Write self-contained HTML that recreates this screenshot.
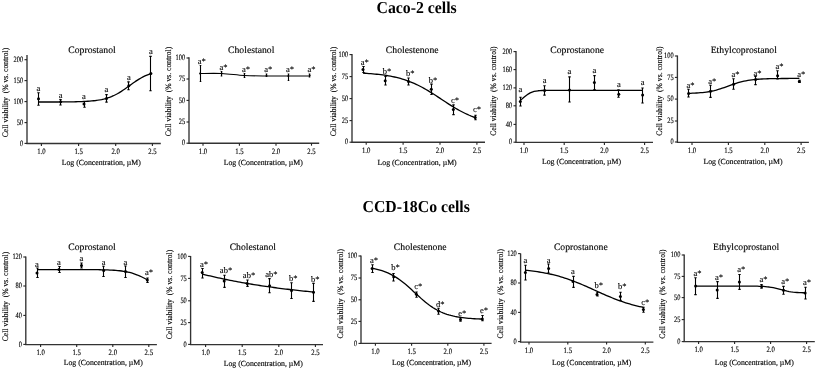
<!DOCTYPE html>
<html><head><meta charset="utf-8"><style>
html,body{margin:0;padding:0;background:#fff;}
svg{display:block;font-family:"Liberation Serif", serif;filter:blur(0.3px);} text{text-rendering:geometricPrecision;stroke:#000;stroke-width:0.14px;} .h{stroke:none;}
</style></head><body>
<svg width="817" height="370" viewBox="0 0 817 370">
<rect width="817" height="370" fill="#fff"/>
<g fill="#000">
<text transform="translate(416.6,13.3) scale(0.945,1)" text-anchor="middle" font-size="16.7" font-weight="bold" class="h">Caco-2 cells</text>
<text transform="translate(416.2,211.5) scale(0.945,1)" text-anchor="middle" font-size="16.7" font-weight="bold" class="h">CCD-18Co cells</text>
<g><path d="M27,55 V143.5 H160.8" fill="none" stroke="#333" stroke-width="1.35"/><path d="M24.5,143.4 H27" stroke="#222" stroke-width="1.1"/><text transform="translate(23.2,145.6) scale(0.78,1)" text-anchor="end" font-size="8.2">0</text><path d="M24.5,122.6 H27" stroke="#222" stroke-width="1.1"/><text transform="translate(23.2,124.8) scale(0.78,1)" text-anchor="end" font-size="8.2">50</text><path d="M24.5,101.6 H27" stroke="#222" stroke-width="1.1"/><text transform="translate(23.2,103.8) scale(0.78,1)" text-anchor="end" font-size="8.2">100</text><path d="M24.5,80.6 H27" stroke="#222" stroke-width="1.1"/><text transform="translate(23.2,82.8) scale(0.78,1)" text-anchor="end" font-size="8.2">150</text><path d="M24.5,59.7 H27" stroke="#222" stroke-width="1.1"/><text transform="translate(23.2,61.900000000000006) scale(0.78,1)" text-anchor="end" font-size="8.2">200</text><path d="M41.4,143.5 V146.0" stroke="#222" stroke-width="1.1"/><text transform="translate(41.4,154.0) scale(0.82,1)" text-anchor="middle" font-size="8.2">1.0</text><path d="M78.6,143.5 V146.0" stroke="#222" stroke-width="1.1"/><text transform="translate(78.6,154.0) scale(0.82,1)" text-anchor="middle" font-size="8.2">1.5</text><path d="M115.7,143.5 V146.0" stroke="#222" stroke-width="1.1"/><text transform="translate(115.7,154.0) scale(0.82,1)" text-anchor="middle" font-size="8.2">2.0</text><path d="M152.4,143.5 V146.0" stroke="#222" stroke-width="1.1"/><text transform="translate(152.4,154.0) scale(0.82,1)" text-anchor="middle" font-size="8.2">2.5</text><text x="92" y="53" text-anchor="middle" font-size="9.7">Coprostanol</text><text x="101.3" y="165.20000000000002" text-anchor="middle" font-size="7.8">Log (Concentration, µM)</text><text transform="translate(8.15,92.5) rotate(-90) scale(0.92,1)" text-anchor="middle" font-size="8.3">Cell viability  (% vs. control)</text><path d="M38.50,102.02 L40.47,102.02 L42.44,102.02 L44.42,102.02 L46.39,102.01 L48.36,102.01 L50.33,102.01 L52.30,102.00 L54.28,101.99 L56.25,101.99 L58.22,101.98 L60.19,101.97 L62.16,101.95 L64.14,101.94 L66.11,101.92 L68.08,101.90 L70.05,101.87 L72.02,101.84 L73.99,101.81 L75.97,101.76 L77.94,101.71 L79.91,101.65 L81.88,101.57 L83.85,101.49 L85.83,101.38 L87.80,101.26 L89.77,101.12 L91.74,100.95 L93.71,100.74 L95.69,100.51 L97.66,100.23 L99.63,99.90 L101.60,99.52 L103.57,99.09 L105.55,98.58 L107.52,97.99 L109.49,97.33 L111.46,96.57 L113.43,95.72 L115.41,94.78 L117.38,93.74 L119.35,92.60 L121.32,91.38 L123.29,90.08 L125.26,88.72 L127.24,87.31 L129.21,85.88 L131.18,84.45 L133.15,83.04 L135.12,81.66 L137.10,80.35 L139.07,79.11 L141.04,77.96 L143.01,76.90 L144.98,75.94 L146.96,75.07 L148.93,74.30 L150.90,73.62" fill="none" stroke="#000" stroke-width="1.3" stroke-linejoin="round"/><path d="M38.5,92.7 V105.2 M37.3,92.7 H39.7 M37.3,105.2 H39.7" stroke="#000" stroke-width="1.1"/><circle cx="38.5" cy="98.8" r="1.5" fill="#000"/><text x="38.5" y="91.2" text-anchor="middle" font-size="8.5">a</text><path d="M60.5,99.5 V105 M59.3,99.5 H61.7 M59.3,105 H61.7" stroke="#000" stroke-width="1.1"/><circle cx="60.7" cy="101.8" r="1.5" fill="#000"/><text x="60.7" y="98.2" text-anchor="middle" font-size="8.5">a</text><path d="M84.5,101.5 V107.2 M83.3,101.5 H85.7 M83.3,107.2 H85.7" stroke="#000" stroke-width="1.1"/><circle cx="84" cy="104" r="1.5" fill="#000"/><text x="84" y="99.2" text-anchor="middle" font-size="8.5">a</text><path d="M106.5,94.6 V102.1 M105.3,94.6 H107.7 M105.3,102.1 H107.7" stroke="#000" stroke-width="1.1"/><circle cx="106.5" cy="98.5" r="1.5" fill="#000"/><text x="106.5" y="92.0" text-anchor="middle" font-size="8.5">a</text><path d="M128.5,81.9 V89.8 M127.3,81.9 H129.7 M127.3,89.8 H129.7" stroke="#000" stroke-width="1.1"/><circle cx="128.8" cy="85.7" r="1.5" fill="#000"/><text x="128.8" y="79.7" text-anchor="middle" font-size="8.5">a</text><path d="M150.5,56.4 V90.8 M149.3,56.4 H151.7 M149.3,90.8 H151.7" stroke="#000" stroke-width="1.1"/><circle cx="150.9" cy="73.4" r="1.5" fill="#000"/><text x="150.9" y="54.2" text-anchor="middle" font-size="8.5">a</text></g><g><path d="M189,57.2 V143.2 H319.2" fill="none" stroke="#333" stroke-width="1.35"/><path d="M186.5,143.2 H189" stroke="#222" stroke-width="1.1"/><text transform="translate(185.2,145.39999999999998) scale(0.78,1)" text-anchor="end" font-size="8.2">0</text><path d="M186.5,122 H189" stroke="#222" stroke-width="1.1"/><text transform="translate(185.2,124.2) scale(0.78,1)" text-anchor="end" font-size="8.2">25</text><path d="M186.5,100.4 H189" stroke="#222" stroke-width="1.1"/><text transform="translate(185.2,102.60000000000001) scale(0.78,1)" text-anchor="end" font-size="8.2">50</text><path d="M186.5,79 H189" stroke="#222" stroke-width="1.1"/><text transform="translate(185.2,81.2) scale(0.78,1)" text-anchor="end" font-size="8.2">75</text><path d="M186.5,58 H189" stroke="#222" stroke-width="1.1"/><text transform="translate(185.2,60.2) scale(0.78,1)" text-anchor="end" font-size="8.2">100</text><path d="M203,143.2 V145.7" stroke="#222" stroke-width="1.1"/><text transform="translate(203,153.6) scale(0.82,1)" text-anchor="middle" font-size="8.2">1.0</text><path d="M239.4,143.2 V145.7" stroke="#222" stroke-width="1.1"/><text transform="translate(239.4,153.6) scale(0.82,1)" text-anchor="middle" font-size="8.2">1.5</text><path d="M276,143.2 V145.7" stroke="#222" stroke-width="1.1"/><text transform="translate(276,153.6) scale(0.82,1)" text-anchor="middle" font-size="8.2">2.0</text><path d="M311.5,143.2 V145.7" stroke="#222" stroke-width="1.1"/><text transform="translate(311.5,153.6) scale(0.82,1)" text-anchor="middle" font-size="8.2">2.5</text><text x="251.2" y="53" text-anchor="middle" font-size="9.7">Cholestanol</text><text x="263.3" y="165.20000000000002" text-anchor="middle" font-size="7.8">Log (Concentration, µM)</text><text transform="translate(171.2,91.5) rotate(-90) scale(0.92,1)" text-anchor="middle" font-size="8.3">Cell viability  (% vs. control)</text><path d="M200.00,73.50 C203.63,73.50 214.42,73.17 221.80,73.50 C229.18,73.83 236.85,75.08 244.30,75.50 C251.75,75.92 259.17,75.92 266.50,76.00 C273.83,76.08 281.08,76.00 288.30,76.00 C295.52,76.00 306.22,76.00 309.80,76.00" fill="none" stroke="#000" stroke-width="1.1" stroke-linejoin="round"/><path d="M200.5,65.5 V81.5 M199.7,65.5 H201.3 M199.7,81.5 H201.3" stroke="#000" stroke-width="1.1"/><circle cx="200" cy="73.5" r="0.9" fill="#000"/><text x="201.8" y="64.2" text-anchor="middle" font-size="8.5">a*</text><path d="M221.5,71.5 V76 M220.7,71.5 H222.3 M220.7,76 H222.3" stroke="#000" stroke-width="1.1"/><circle cx="221.8" cy="73.5" r="0.9" fill="#000"/><text x="223.60000000000002" y="70.2" text-anchor="middle" font-size="8.5">a*</text><path d="M244.5,73.5 V77.5 M243.7,73.5 H245.3 M243.7,77.5 H245.3" stroke="#000" stroke-width="1.1"/><circle cx="244.3" cy="75.5" r="0.9" fill="#000"/><text x="246.10000000000002" y="72.2" text-anchor="middle" font-size="8.5">a*</text><path d="M266.5,74 V76 M265.7,74 H267.3 M265.7,76 H267.3" stroke="#000" stroke-width="1.1"/><circle cx="266.5" cy="76" r="0.9" fill="#000"/><text x="268.3" y="72.2" text-anchor="middle" font-size="8.5">a*</text><path d="M288.5,74 V80.5 M287.7,74 H289.3 M287.7,80.5 H289.3" stroke="#000" stroke-width="1.1"/><circle cx="288.3" cy="76" r="0.9" fill="#000"/><text x="290.1" y="72.2" text-anchor="middle" font-size="8.5">a*</text><path d="M309.5,74 V77 M308.7,74 H310.3 M308.7,77 H310.3" stroke="#000" stroke-width="1.1"/><circle cx="309.8" cy="75.5" r="0.9" fill="#000"/><text x="311.6" y="72.2" text-anchor="middle" font-size="8.5">a*</text></g><g><path d="M352,54 V142.2 H485" fill="none" stroke="#333" stroke-width="1.35"/><path d="M349.5,142.2 H352" stroke="#222" stroke-width="1.1"/><text transform="translate(348.2,144.39999999999998) scale(0.78,1)" text-anchor="end" font-size="8.2">0</text><path d="M349.5,120.6 H352" stroke="#222" stroke-width="1.1"/><text transform="translate(348.2,122.8) scale(0.78,1)" text-anchor="end" font-size="8.2">25</text><path d="M349.5,98.6 H352" stroke="#222" stroke-width="1.1"/><text transform="translate(348.2,100.8) scale(0.78,1)" text-anchor="end" font-size="8.2">50</text><path d="M349.5,76.6 H352" stroke="#222" stroke-width="1.1"/><text transform="translate(348.2,78.8) scale(0.78,1)" text-anchor="end" font-size="8.2">75</text><path d="M349.5,54.6 H352" stroke="#222" stroke-width="1.1"/><text transform="translate(348.2,56.800000000000004) scale(0.78,1)" text-anchor="end" font-size="8.2">100</text><path d="M366.2,142.2 V144.7" stroke="#222" stroke-width="1.1"/><text transform="translate(366.2,152.79999999999998) scale(0.82,1)" text-anchor="middle" font-size="8.2">1.0</text><path d="M403.1,142.2 V144.7" stroke="#222" stroke-width="1.1"/><text transform="translate(403.1,152.79999999999998) scale(0.82,1)" text-anchor="middle" font-size="8.2">1.5</text><path d="M440,142.2 V144.7" stroke="#222" stroke-width="1.1"/><text transform="translate(440,152.79999999999998) scale(0.82,1)" text-anchor="middle" font-size="8.2">2.0</text><path d="M476.9,142.2 V144.7" stroke="#222" stroke-width="1.1"/><text transform="translate(476.9,152.79999999999998) scale(0.82,1)" text-anchor="middle" font-size="8.2">2.5</text><text x="412.2" y="53" text-anchor="middle" font-size="9.7">Cholestenone</text><text x="417.1" y="165.20000000000002" text-anchor="middle" font-size="7.8">Log (Concentration, µM)</text><text transform="translate(336.20000000000005,91.5) rotate(-90) scale(0.92,1)" text-anchor="middle" font-size="8.3">Cell viability  (% vs. control)</text><path d="M363.00,73.16 L364.97,73.27 L366.94,73.40 L368.91,73.53 L370.87,73.68 L372.84,73.85 L374.81,74.03 L376.78,74.23 L378.75,74.44 L380.72,74.68 L382.68,74.93 L384.65,75.21 L386.62,75.51 L388.59,75.84 L390.56,76.20 L392.53,76.59 L394.49,77.01 L396.46,77.47 L398.43,77.96 L400.40,78.49 L402.37,79.06 L404.34,79.67 L406.31,80.33 L408.27,81.03 L410.24,81.78 L412.21,82.58 L414.18,83.42 L416.15,84.31 L418.12,85.25 L420.08,86.24 L422.05,87.27 L424.02,88.35 L425.99,89.47 L427.96,90.63 L429.93,91.82 L431.89,93.05 L433.86,94.30 L435.83,95.57 L437.80,96.86 L439.77,98.16 L441.74,99.46 L443.71,100.77 L445.67,102.06 L447.64,103.34 L449.61,104.60 L451.58,105.84 L453.55,107.05 L455.52,108.22 L457.48,109.36 L459.45,110.46 L461.42,111.51 L463.39,112.52 L465.36,113.48 L467.33,114.39 L469.29,115.26 L471.26,116.08 L473.23,116.84 L475.20,117.57" fill="none" stroke="#000" stroke-width="1.3" stroke-linejoin="round"/><path d="M363.5,66.5 V72.5 M362.3,66.5 H364.7 M362.3,72.5 H364.7" stroke="#000" stroke-width="1.1"/><circle cx="363" cy="69.5" r="1.5" fill="#000"/><text x="364.8" y="64.7" text-anchor="middle" font-size="8.5">a*</text><path d="M385.5,76.5 V85 M384.3,76.5 H386.7 M384.3,85 H386.7" stroke="#000" stroke-width="1.1"/><circle cx="385.2" cy="80.8" r="1.5" fill="#000"/><text x="387.0" y="73.7" text-anchor="middle" font-size="8.5">b*</text><path d="M408.5,78 V85 M407.3,78 H409.7 M407.3,85 H409.7" stroke="#000" stroke-width="1.1"/><circle cx="408.5" cy="81.5" r="1.5" fill="#000"/><text x="410.3" y="75.7" text-anchor="middle" font-size="8.5">b*</text><path d="M431.5,84.1 V94.5 M430.3,84.1 H432.7 M430.3,94.5 H432.7" stroke="#000" stroke-width="1.1"/><circle cx="431.3" cy="89.3" r="1.5" fill="#000"/><text x="433.1" y="82.60000000000001" text-anchor="middle" font-size="8.5">b*</text><path d="M453.5,104.9 V114.6 M452.3,104.9 H454.7 M452.3,114.6 H454.7" stroke="#000" stroke-width="1.1"/><circle cx="453.3" cy="109.4" r="1.5" fill="#000"/><text x="455.1" y="102.7" text-anchor="middle" font-size="8.5">c*</text><path d="M475.5,115.3 V119.8 M474.3,115.3 H476.7 M474.3,119.8 H476.7" stroke="#000" stroke-width="1.1"/><circle cx="475.2" cy="117.5" r="1.5" fill="#000"/><text x="477.0" y="112.2" text-anchor="middle" font-size="8.5">c*</text></g><g><path d="M516,51 V142.4 H653" fill="none" stroke="#333" stroke-width="1.35"/><path d="M513.5,142.2 H516" stroke="#222" stroke-width="1.1"/><text transform="translate(512.2,144.39999999999998) scale(0.78,1)" text-anchor="end" font-size="8.2">0</text><path d="M513.5,124.4 H516" stroke="#222" stroke-width="1.1"/><text transform="translate(512.2,126.60000000000001) scale(0.78,1)" text-anchor="end" font-size="8.2">40</text><path d="M513.5,105.8 H516" stroke="#222" stroke-width="1.1"/><text transform="translate(512.2,108.0) scale(0.78,1)" text-anchor="end" font-size="8.2">80</text><path d="M513.5,87.9 H516" stroke="#222" stroke-width="1.1"/><text transform="translate(512.2,90.10000000000001) scale(0.78,1)" text-anchor="end" font-size="8.2">120</text><path d="M513.5,69.6 H516" stroke="#222" stroke-width="1.1"/><text transform="translate(512.2,71.8) scale(0.78,1)" text-anchor="end" font-size="8.2">160</text><path d="M513.5,51.6 H516" stroke="#222" stroke-width="1.1"/><text transform="translate(512.2,53.800000000000004) scale(0.78,1)" text-anchor="end" font-size="8.2">200</text><path d="M524,142.4 V144.9" stroke="#222" stroke-width="1.1"/><text transform="translate(524,152.9) scale(0.82,1)" text-anchor="middle" font-size="8.2">1.0</text><path d="M564.2,142.4 V144.9" stroke="#222" stroke-width="1.1"/><text transform="translate(564.2,152.9) scale(0.82,1)" text-anchor="middle" font-size="8.2">1.5</text><path d="M604.4,142.4 V144.9" stroke="#222" stroke-width="1.1"/><text transform="translate(604.4,152.9) scale(0.82,1)" text-anchor="middle" font-size="8.2">2.0</text><path d="M644.6,142.4 V144.9" stroke="#222" stroke-width="1.1"/><text transform="translate(644.6,152.9) scale(0.82,1)" text-anchor="middle" font-size="8.2">2.5</text><text x="577.2" y="53" text-anchor="middle" font-size="9.7">Coprostanone</text><text x="581.5" y="164.4" text-anchor="middle" font-size="7.8">Log (Concentration, µM)</text><text transform="translate(495.70000000000005,91.1) rotate(-90) scale(0.92,1)" text-anchor="middle" font-size="8.3">Cell viability  (% vs. control)</text><path d="M520.30,100.20 L522.27,98.73 L524.25,97.11 L526.22,95.50 L528.19,94.07 L530.16,92.92 L532.14,92.05 L534.11,91.45 L536.08,91.04 L538.05,90.77 L540.03,90.60 L542.00,90.49 L543.97,90.42 L545.94,90.37 L547.92,90.35 L549.89,90.33 L551.86,90.32 L553.83,90.31 L555.81,90.31 L557.78,90.30 L559.75,90.30 L561.72,90.30 L563.70,90.30 L565.67,90.30 L567.64,90.30 L569.61,90.30 L571.59,90.30 L573.56,90.30 L575.53,90.30 L577.50,90.30 L579.48,90.30 L581.45,90.30 L583.42,90.30 L585.40,90.30 L587.37,90.30 L589.34,90.30 L591.31,90.30 L593.29,90.30 L595.26,90.30 L597.23,90.30 L599.20,90.30 L601.18,90.30 L603.15,90.30 L605.12,90.30 L607.09,90.30 L609.07,90.30 L611.04,90.30 L613.01,90.30 L614.98,90.30 L616.96,90.30 L618.93,90.30 L620.90,90.30 L622.87,90.30 L624.85,90.30 L626.82,90.30 L628.79,90.30 L630.76,90.30 L632.74,90.30 L634.71,90.30 L636.68,90.30 L638.65,90.30 L640.63,90.30 L642.60,90.30" fill="none" stroke="#000" stroke-width="1.3" stroke-linejoin="round"/><path d="M520.5,97.2 V106 M519.3,97.2 H521.7 M519.3,106 H521.7" stroke="#000" stroke-width="1.1"/><circle cx="520.3" cy="101.5" r="1.5" fill="#000"/><text x="520.3" y="92.10000000000001" text-anchor="middle" font-size="8.5">a</text><path d="M544.5,85.7 V95.1 M543.3,85.7 H545.7 M543.3,95.1 H545.7" stroke="#000" stroke-width="1.1"/><circle cx="544.6" cy="90.5" r="1.5" fill="#000"/><text x="544.6" y="83.0" text-anchor="middle" font-size="8.5">a</text><path d="M569.5,76.9 V102 M568.3,76.9 H570.7 M568.3,102 H570.7" stroke="#000" stroke-width="1.1"/><circle cx="569.5" cy="89.9" r="1.5" fill="#000"/><text x="569.5" y="74.2" text-anchor="middle" font-size="8.5">a</text><path d="M594.5,75.6 V89.6 M593.3,75.6 H595.7 M593.3,89.6 H595.7" stroke="#000" stroke-width="1.1"/><circle cx="594.4" cy="82.4" r="1.5" fill="#000"/><text x="594.4" y="73.2" text-anchor="middle" font-size="8.5">a</text><path d="M618.5,89.9 V97.2 M617.3,89.9 H619.7 M617.3,97.2 H619.7" stroke="#000" stroke-width="1.1"/><circle cx="618.8" cy="94.2" r="1.5" fill="#000"/><text x="618.8" y="87.0" text-anchor="middle" font-size="8.5">a</text><path d="M642.5,88 V103 M641.3,88 H643.7 M641.3,103 H643.7" stroke="#000" stroke-width="1.1"/><circle cx="642.6" cy="95" r="1.5" fill="#000"/><text x="642.6" y="85.2" text-anchor="middle" font-size="8.5">a</text></g><g><path d="M677.4,55.6 V142.4 H808.9" fill="none" stroke="#333" stroke-width="1.35"/><path d="M674.9,142 H677.4" stroke="#222" stroke-width="1.1"/><text transform="translate(673.6,144.2) scale(0.78,1)" text-anchor="end" font-size="8.2">0</text><path d="M674.9,121 H677.4" stroke="#222" stroke-width="1.1"/><text transform="translate(673.6,123.2) scale(0.78,1)" text-anchor="end" font-size="8.2">25</text><path d="M674.9,99.1 H677.4" stroke="#222" stroke-width="1.1"/><text transform="translate(673.6,101.3) scale(0.78,1)" text-anchor="end" font-size="8.2">50</text><path d="M674.9,77.4 H677.4" stroke="#222" stroke-width="1.1"/><text transform="translate(673.6,79.60000000000001) scale(0.78,1)" text-anchor="end" font-size="8.2">75</text><path d="M674.9,56 H677.4" stroke="#222" stroke-width="1.1"/><text transform="translate(673.6,58.2) scale(0.78,1)" text-anchor="end" font-size="8.2">100</text><path d="M692,142.4 V144.9" stroke="#222" stroke-width="1.1"/><text transform="translate(692,152.9) scale(0.82,1)" text-anchor="middle" font-size="8.2">1.0</text><path d="M728.4,142.4 V144.9" stroke="#222" stroke-width="1.1"/><text transform="translate(728.4,152.9) scale(0.82,1)" text-anchor="middle" font-size="8.2">1.5</text><path d="M764.8,142.4 V144.9" stroke="#222" stroke-width="1.1"/><text transform="translate(764.8,152.9) scale(0.82,1)" text-anchor="middle" font-size="8.2">2.0</text><path d="M801.1,142.4 V144.9" stroke="#222" stroke-width="1.1"/><text transform="translate(801.1,152.9) scale(0.82,1)" text-anchor="middle" font-size="8.2">2.5</text><text x="743.8" y="53" text-anchor="middle" font-size="9.7">Ethylcoprostanol</text><text x="743" y="164.3" text-anchor="middle" font-size="7.8">Log (Concentration, µM)</text><text transform="translate(662.4,91.1) rotate(-90) scale(0.92,1)" text-anchor="middle" font-size="8.3">Cell viability  (% vs. control)</text><path d="M688.60,93.36 L690.58,93.30 L692.56,93.22 L694.54,93.12 L696.51,93.01 L698.49,92.87 L700.47,92.71 L702.45,92.53 L704.43,92.30 L706.41,92.04 L708.39,91.74 L710.36,91.39 L712.34,91.00 L714.32,90.55 L716.30,90.05 L718.28,89.49 L720.26,88.88 L722.24,88.23 L724.21,87.55 L726.19,86.84 L728.17,86.11 L730.15,85.38 L732.13,84.67 L734.11,83.98 L736.09,83.32 L738.06,82.71 L740.04,82.15 L742.02,81.64 L744.00,81.18 L745.98,80.77 L747.96,80.42 L749.94,80.11 L751.91,79.84 L753.89,79.62 L755.87,79.42 L757.85,79.26 L759.83,79.12 L761.81,79.01 L763.79,78.91 L765.76,78.83 L767.74,78.76 L769.72,78.70 L771.70,78.66 L773.68,78.62 L775.66,78.58 L777.64,78.56 L779.61,78.53 L781.59,78.52 L783.57,78.50 L785.55,78.49 L787.53,78.48 L789.51,78.47 L791.49,78.46 L793.46,78.46 L795.44,78.45 L797.42,78.45 L799.40,78.44" fill="none" stroke="#000" stroke-width="1.3" stroke-linejoin="round"/><path d="M688.5,89.2 V97 M687.3,89.2 H689.7 M687.3,97 H689.7" stroke="#000" stroke-width="1.1"/><circle cx="688.6" cy="93.4" r="1.5" fill="#000"/><text x="690.4" y="88.0" text-anchor="middle" font-size="8.5">a*</text><path d="M710.5,85.3 V97.4 M709.3,85.3 H711.7 M709.3,97.4 H711.7" stroke="#000" stroke-width="1.1"/><circle cx="710.5" cy="91.3" r="1.5" fill="#000"/><text x="712.3" y="83.8" text-anchor="middle" font-size="8.5">a*</text><path d="M733.5,78.8 V89.2 M732.3,78.8 H734.7 M732.3,89.2 H734.7" stroke="#000" stroke-width="1.1"/><circle cx="733.6" cy="84.3" r="1.5" fill="#000"/><text x="735.4" y="77.4" text-anchor="middle" font-size="8.5">a*</text><path d="M755.5,76.4 V84.6 M754.3,76.4 H756.7 M754.3,84.6 H756.7" stroke="#000" stroke-width="1.1"/><circle cx="755.6" cy="79.6" r="1.5" fill="#000"/><text x="757.4" y="76.0" text-anchor="middle" font-size="8.5">a*</text><path d="M777.5,70.8 V79 M776.3,70.8 H778.7 M776.3,79 H778.7" stroke="#000" stroke-width="1.1"/><circle cx="777.6" cy="75.8" r="1.5" fill="#000"/><text x="779.4" y="68.9" text-anchor="middle" font-size="8.5">a*</text><path d="M799.5,80.3 V82.5 M798.3,80.3 H800.7 M798.3,82.5 H800.7" stroke="#000" stroke-width="1.1"/><circle cx="799.4" cy="81.6" r="1.5" fill="#000"/><text x="801.1999999999999" y="76.7" text-anchor="middle" font-size="8.5">a*</text></g><g><path d="M25.8,256.4 V344.6 H156.9" fill="none" stroke="#333" stroke-width="1.35"/><path d="M23.3,344.4 H25.8" stroke="#222" stroke-width="1.1"/><text transform="translate(22.0,346.59999999999997) scale(0.78,1)" text-anchor="end" font-size="8.2">0</text><path d="M23.3,315.4 H25.8" stroke="#222" stroke-width="1.1"/><text transform="translate(22.0,317.59999999999997) scale(0.78,1)" text-anchor="end" font-size="8.2">40</text><path d="M23.3,286 H25.8" stroke="#222" stroke-width="1.1"/><text transform="translate(22.0,288.2) scale(0.78,1)" text-anchor="end" font-size="8.2">80</text><path d="M23.3,257 H25.8" stroke="#222" stroke-width="1.1"/><text transform="translate(22.0,259.2) scale(0.78,1)" text-anchor="end" font-size="8.2">120</text><path d="M40.6,344.6 V347.1" stroke="#222" stroke-width="1.1"/><text transform="translate(40.6,355.1) scale(0.82,1)" text-anchor="middle" font-size="8.2">1.0</text><path d="M76.7,344.6 V347.1" stroke="#222" stroke-width="1.1"/><text transform="translate(76.7,355.1) scale(0.82,1)" text-anchor="middle" font-size="8.2">1.5</text><path d="M112.8,344.6 V347.1" stroke="#222" stroke-width="1.1"/><text transform="translate(112.8,355.1) scale(0.82,1)" text-anchor="middle" font-size="8.2">2.0</text><path d="M148.8,344.6 V347.1" stroke="#222" stroke-width="1.1"/><text transform="translate(148.8,355.1) scale(0.82,1)" text-anchor="middle" font-size="8.2">2.5</text><text x="92" y="249.5" text-anchor="middle" font-size="9.7">Coprostanol</text><text x="103.3" y="364.79999999999995" text-anchor="middle" font-size="7.8">Log (Concentration, µM)</text><text transform="translate(8.15,296.5) rotate(-90) scale(0.92,1)" text-anchor="middle" font-size="8.3">Cell viability  (% vs. control)</text><path d="M37.00,269.56 L38.97,269.56 L40.94,269.56 L42.91,269.56 L44.88,269.56 L46.85,269.56 L48.82,269.56 L50.79,269.56 L52.76,269.56 L54.73,269.56 L56.70,269.56 L58.67,269.57 L60.64,269.57 L62.61,269.57 L64.58,269.57 L66.54,269.57 L68.51,269.57 L70.48,269.57 L72.45,269.57 L74.42,269.58 L76.39,269.58 L78.36,269.58 L80.33,269.59 L82.30,269.59 L84.27,269.60 L86.24,269.61 L88.21,269.62 L90.18,269.63 L92.15,269.65 L94.12,269.66 L96.09,269.69 L98.06,269.71 L100.03,269.74 L102.00,269.78 L103.97,269.83 L105.94,269.88 L107.91,269.95 L109.88,270.03 L111.85,270.13 L113.82,270.25 L115.79,270.39 L117.76,270.56 L119.73,270.76 L121.69,271.00 L123.66,271.29 L125.63,271.62 L127.60,272.01 L129.57,272.47 L131.54,272.99 L133.51,273.59 L135.48,274.27 L137.45,275.02 L139.42,275.86 L141.39,276.76 L143.36,277.73 L145.33,278.75 L147.30,279.81" fill="none" stroke="#000" stroke-width="1.3" stroke-linejoin="round"/><path d="M37.5,268 V277.5 M36.3,268 H38.7 M36.3,277.5 H38.7" stroke="#000" stroke-width="1.1"/><circle cx="37" cy="273" r="1.5" fill="#000"/><text x="37" y="267.2" text-anchor="middle" font-size="8.5">a</text><path d="M59.5,266.5 V272.5 M58.3,266.5 H60.7 M58.3,272.5 H60.7" stroke="#000" stroke-width="1.1"/><circle cx="59" cy="269.5" r="1.5" fill="#000"/><text x="59" y="265.2" text-anchor="middle" font-size="8.5">a</text><path d="M81.5,263 V268 M80.3,263 H82.7 M80.3,268 H82.7" stroke="#000" stroke-width="1.1"/><circle cx="81.5" cy="265.5" r="1.5" fill="#000"/><text x="81.5" y="260.8" text-anchor="middle" font-size="8.5">a</text><path d="M103.5,266.2 V276.5 M102.3,266.2 H104.7 M102.3,276.5 H104.7" stroke="#000" stroke-width="1.1"/><circle cx="103.7" cy="270.5" r="1.5" fill="#000"/><text x="103.7" y="264.7" text-anchor="middle" font-size="8.5">a</text><path d="M125.5,266 V277.5 M124.3,266 H126.7 M124.3,277.5 H126.7" stroke="#000" stroke-width="1.1"/><circle cx="125.5" cy="271.5" r="1.5" fill="#000"/><text x="125.5" y="264.7" text-anchor="middle" font-size="8.5">a</text><path d="M147.5,278 V282.5 M146.3,278 H148.7 M146.3,282.5 H148.7" stroke="#000" stroke-width="1.1"/><circle cx="147.3" cy="280" r="1.5" fill="#000"/><text x="149.10000000000002" y="274.7" text-anchor="middle" font-size="8.5">a*</text></g><g><path d="M190.6,256 V344.6 H323" fill="none" stroke="#333" stroke-width="1.35"/><path d="M188.1,344.4 H190.6" stroke="#222" stroke-width="1.1"/><text transform="translate(186.79999999999998,346.59999999999997) scale(0.78,1)" text-anchor="end" font-size="8.2">0</text><path d="M188.1,322.6 H190.6" stroke="#222" stroke-width="1.1"/><text transform="translate(186.79999999999998,324.8) scale(0.78,1)" text-anchor="end" font-size="8.2">25</text><path d="M188.1,300.8 H190.6" stroke="#222" stroke-width="1.1"/><text transform="translate(186.79999999999998,303.0) scale(0.78,1)" text-anchor="end" font-size="8.2">50</text><path d="M188.1,278.4 H190.6" stroke="#222" stroke-width="1.1"/><text transform="translate(186.79999999999998,280.59999999999997) scale(0.78,1)" text-anchor="end" font-size="8.2">75</text><path d="M188.1,256.4 H190.6" stroke="#222" stroke-width="1.1"/><text transform="translate(186.79999999999998,258.59999999999997) scale(0.78,1)" text-anchor="end" font-size="8.2">100</text><path d="M205.6,344.6 V347.1" stroke="#222" stroke-width="1.1"/><text transform="translate(205.6,355.1) scale(0.82,1)" text-anchor="middle" font-size="8.2">1.0</text><path d="M242.2,344.6 V347.1" stroke="#222" stroke-width="1.1"/><text transform="translate(242.2,355.1) scale(0.82,1)" text-anchor="middle" font-size="8.2">1.5</text><path d="M278.8,344.6 V347.1" stroke="#222" stroke-width="1.1"/><text transform="translate(278.8,355.1) scale(0.82,1)" text-anchor="middle" font-size="8.2">2.0</text><path d="M315.4,344.6 V347.1" stroke="#222" stroke-width="1.1"/><text transform="translate(315.4,355.1) scale(0.82,1)" text-anchor="middle" font-size="8.2">2.5</text><text x="252.8" y="249.5" text-anchor="middle" font-size="9.7">Cholestanol</text><text x="263.3" y="366.09999999999997" text-anchor="middle" font-size="7.8">Log (Concentration, µM)</text><text transform="translate(171.7,294.5) rotate(-90) scale(0.92,1)" text-anchor="middle" font-size="8.3">Cell viability  (% vs. control)</text><path d="M202.20,274.05 L204.19,274.55 L206.17,275.04 L208.16,275.52 L210.15,275.99 L212.14,276.46 L214.12,276.91 L216.11,277.36 L218.10,277.80 L220.09,278.24 L222.07,278.66 L224.06,279.08 L226.05,279.49 L228.04,279.90 L230.02,280.29 L232.01,280.68 L234.00,281.07 L235.99,281.44 L237.97,281.82 L239.96,282.18 L241.95,282.54 L243.94,282.89 L245.93,283.24 L247.91,283.58 L249.90,283.91 L251.89,284.24 L253.88,284.56 L255.86,284.88 L257.85,285.19 L259.84,285.50 L261.82,285.80 L263.81,286.09 L265.80,286.38 L267.79,286.67 L269.77,286.95 L271.76,287.23 L273.75,287.50 L275.74,287.76 L277.73,288.03 L279.71,288.28 L281.70,288.54 L283.69,288.79 L285.68,289.03 L287.66,289.27 L289.65,289.51 L291.64,289.74 L293.62,289.97 L295.61,290.19 L297.60,290.41 L299.59,290.63 L301.57,290.84 L303.56,291.05 L305.55,291.25 L307.54,291.46 L309.52,291.65 L311.51,291.85 L313.50,292.04" fill="none" stroke="#000" stroke-width="1.3" stroke-linejoin="round"/><path d="M202.5,268.5 V278 M201.3,268.5 H203.7 M201.3,278 H203.7" stroke="#000" stroke-width="1.1"/><circle cx="202.2" cy="272.6" r="1.5" fill="#000"/><text x="204.0" y="266.7" text-anchor="middle" font-size="8.5">a*</text><path d="M224.5,275.3 V287.4 M223.3,275.3 H225.7 M223.3,287.4 H225.7" stroke="#000" stroke-width="1.1"/><circle cx="224.2" cy="281" r="1.5" fill="#000"/><text x="226.0" y="272.7" text-anchor="middle" font-size="8.5">ab*</text><path d="M247.5,280 V286.4 M246.3,280 H248.7 M246.3,286.4 H248.7" stroke="#000" stroke-width="1.1"/><circle cx="247.2" cy="283.4" r="1.5" fill="#000"/><text x="249.0" y="277.7" text-anchor="middle" font-size="8.5">ab*</text><path d="M269.5,278.6 V292.8 M268.3,278.6 H270.7 M268.3,292.8 H270.7" stroke="#000" stroke-width="1.1"/><circle cx="269.6" cy="285.8" r="1.5" fill="#000"/><text x="271.40000000000003" y="276.8" text-anchor="middle" font-size="8.5">ab*</text><path d="M291.5,282.7 V298.5 M290.3,282.7 H292.7 M290.3,298.5 H292.7" stroke="#000" stroke-width="1.1"/><circle cx="291.5" cy="290.4" r="1.5" fill="#000"/><text x="293.3" y="280.8" text-anchor="middle" font-size="8.5">b*</text><path d="M313.5,283.4 V301.4 M312.3,283.4 H314.7 M312.3,301.4 H314.7" stroke="#000" stroke-width="1.1"/><circle cx="313.5" cy="292.2" r="1.5" fill="#000"/><text x="315.3" y="281.5" text-anchor="middle" font-size="8.5">b*</text></g><g><path d="M361,255.6 V343.3 H491.6" fill="none" stroke="#333" stroke-width="1.35"/><path d="M358.5,343.4 H361" stroke="#222" stroke-width="1.1"/><text transform="translate(357.2,345.59999999999997) scale(0.78,1)" text-anchor="end" font-size="8.2">0</text><path d="M358.5,321.4 H361" stroke="#222" stroke-width="1.1"/><text transform="translate(357.2,323.59999999999997) scale(0.78,1)" text-anchor="end" font-size="8.2">25</text><path d="M358.5,299.8 H361" stroke="#222" stroke-width="1.1"/><text transform="translate(357.2,302.0) scale(0.78,1)" text-anchor="end" font-size="8.2">50</text><path d="M358.5,278 H361" stroke="#222" stroke-width="1.1"/><text transform="translate(357.2,280.2) scale(0.78,1)" text-anchor="end" font-size="8.2">75</text><path d="M358.5,256 H361" stroke="#222" stroke-width="1.1"/><text transform="translate(357.2,258.2) scale(0.78,1)" text-anchor="end" font-size="8.2">100</text><path d="M375.4,343.3 V345.8" stroke="#222" stroke-width="1.1"/><text transform="translate(375.4,353.6) scale(0.82,1)" text-anchor="middle" font-size="8.2">1.0</text><path d="M411.6,343.3 V345.8" stroke="#222" stroke-width="1.1"/><text transform="translate(411.6,353.6) scale(0.82,1)" text-anchor="middle" font-size="8.2">1.5</text><path d="M447.8,343.3 V345.8" stroke="#222" stroke-width="1.1"/><text transform="translate(447.8,353.6) scale(0.82,1)" text-anchor="middle" font-size="8.2">2.0</text><path d="M483.9,343.3 V345.8" stroke="#222" stroke-width="1.1"/><text transform="translate(483.9,353.6) scale(0.82,1)" text-anchor="middle" font-size="8.2">2.5</text><text x="420.2" y="249.5" text-anchor="middle" font-size="9.7">Cholestenone</text><text x="431.5" y="364.9" text-anchor="middle" font-size="7.8">Log (Concentration, µM)</text><text transform="translate(343.40000000000003,293.8) rotate(-90) scale(0.92,1)" text-anchor="middle" font-size="8.3">Cell viability  (% vs. control)</text><path d="M372.10,268.35 L374.07,268.72 L376.04,269.14 L378.00,269.62 L379.97,270.15 L381.94,270.74 L383.91,271.41 L385.88,272.14 L387.84,272.96 L389.81,273.86 L391.78,274.85 L393.75,275.94 L395.71,277.11 L397.68,278.39 L399.65,279.75 L401.62,281.21 L403.59,282.75 L405.55,284.37 L407.52,286.06 L409.49,287.80 L411.46,289.59 L413.43,291.41 L415.39,293.23 L417.36,295.05 L419.33,296.85 L421.30,298.61 L423.26,300.32 L425.23,301.96 L427.20,303.53 L429.17,305.01 L431.14,306.41 L433.10,307.71 L435.07,308.92 L437.04,310.03 L439.01,311.05 L440.98,311.98 L442.94,312.82 L444.91,313.59 L446.88,314.27 L448.85,314.89 L450.81,315.44 L452.78,315.93 L454.75,316.37 L456.72,316.76 L458.69,317.10 L460.65,317.41 L462.62,317.68 L464.59,317.91 L466.56,318.12 L468.53,318.31 L470.49,318.47 L472.46,318.61 L474.43,318.73 L476.40,318.84 L478.36,318.94 L480.33,319.02 L482.30,319.10" fill="none" stroke="#000" stroke-width="1.3" stroke-linejoin="round"/><path d="M372.5,264.7 V272.5 M371.3,264.7 H373.7 M371.3,272.5 H373.7" stroke="#000" stroke-width="1.1"/><circle cx="372.1" cy="268.4" r="1.5" fill="#000"/><text x="373.90000000000003" y="263.0" text-anchor="middle" font-size="8.5">a*</text><path d="M393.5,273.5 V281 M392.3,273.5 H394.7 M392.3,281 H394.7" stroke="#000" stroke-width="1.1"/><circle cx="393.7" cy="276.8" r="1.5" fill="#000"/><text x="395.5" y="270.4" text-anchor="middle" font-size="8.5">b*</text><path d="M416.5,292 V297.2 M415.3,292 H417.7 M415.3,297.2 H417.7" stroke="#000" stroke-width="1.1"/><circle cx="416.4" cy="294.3" r="1.5" fill="#000"/><text x="418.2" y="289.2" text-anchor="middle" font-size="8.5">c*</text><path d="M438.5,308.3 V314.2 M437.3,308.3 H439.7 M437.3,314.2 H439.7" stroke="#000" stroke-width="1.1"/><circle cx="438.5" cy="310.9" r="1.5" fill="#000"/><text x="440.3" y="306.7" text-anchor="middle" font-size="8.5">d*</text><path d="M460.5,317.7 V321.3 M459.3,317.7 H461.7 M459.3,321.3 H461.7" stroke="#000" stroke-width="1.1"/><circle cx="460.5" cy="319.4" r="1.5" fill="#000"/><text x="462.3" y="316.4" text-anchor="middle" font-size="8.5">e*</text><path d="M482.5,315.5 V320.7 M481.3,315.5 H483.7 M481.3,320.7 H483.7" stroke="#000" stroke-width="1.1"/><circle cx="482.3" cy="319" r="1.5" fill="#000"/><text x="484.1" y="312.5" text-anchor="middle" font-size="8.5">e*</text></g><g><path d="M520.6,253.4 V342.1 H653.4" fill="none" stroke="#333" stroke-width="1.35"/><path d="M518.1,341.6 H520.6" stroke="#222" stroke-width="1.1"/><text transform="translate(516.8000000000001,343.8) scale(0.78,1)" text-anchor="end" font-size="8.2">0</text><path d="M518.1,312.4 H520.6" stroke="#222" stroke-width="1.1"/><text transform="translate(516.8000000000001,314.59999999999997) scale(0.78,1)" text-anchor="end" font-size="8.2">40</text><path d="M518.1,283 H520.6" stroke="#222" stroke-width="1.1"/><text transform="translate(516.8000000000001,285.2) scale(0.78,1)" text-anchor="end" font-size="8.2">80</text><path d="M518.1,253.6 H520.6" stroke="#222" stroke-width="1.1"/><text transform="translate(516.8000000000001,255.79999999999998) scale(0.78,1)" text-anchor="end" font-size="8.2">120</text><path d="M529,342.1 V344.6" stroke="#222" stroke-width="1.1"/><text transform="translate(529,352.6) scale(0.82,1)" text-anchor="middle" font-size="8.2">1.0</text><path d="M567.8,342.1 V344.6" stroke="#222" stroke-width="1.1"/><text transform="translate(567.8,352.6) scale(0.82,1)" text-anchor="middle" font-size="8.2">1.5</text><path d="M606.6,342.1 V344.6" stroke="#222" stroke-width="1.1"/><text transform="translate(606.6,352.6) scale(0.82,1)" text-anchor="middle" font-size="8.2">2.0</text><path d="M645.3,342.1 V344.6" stroke="#222" stroke-width="1.1"/><text transform="translate(645.3,352.6) scale(0.82,1)" text-anchor="middle" font-size="8.2">2.5</text><text x="580.8" y="249.5" text-anchor="middle" font-size="9.7">Coprostanone</text><text x="591.7" y="364.79999999999995" text-anchor="middle" font-size="7.8">Log (Concentration, µM)</text><text transform="translate(503.1,293.8) rotate(-90) scale(0.92,1)" text-anchor="middle" font-size="8.3">Cell viability  (% vs. control)</text><path d="M525.40,270.24 L527.37,270.44 L529.33,270.66 L531.30,270.89 L533.27,271.14 L535.23,271.40 L537.20,271.69 L539.17,271.99 L541.13,272.31 L543.10,272.65 L545.07,273.02 L547.03,273.40 L549.00,273.81 L550.97,274.25 L552.93,274.71 L554.90,275.19 L556.87,275.70 L558.83,276.24 L560.80,276.81 L562.77,277.40 L564.73,278.02 L566.70,278.66 L568.67,279.34 L570.63,280.04 L572.60,280.76 L574.57,281.51 L576.53,282.28 L578.50,283.08 L580.47,283.89 L582.43,284.73 L584.40,285.58 L586.37,286.44 L588.33,287.32 L590.30,288.20 L592.27,289.09 L594.23,289.99 L596.20,290.88 L598.17,291.78 L600.13,292.67 L602.10,293.55 L604.07,294.42 L606.03,295.28 L608.00,296.13 L609.97,296.96 L611.93,297.77 L613.90,298.56 L615.87,299.32 L617.83,300.07 L619.80,300.78 L621.77,301.48 L623.73,302.14 L625.70,302.78 L627.67,303.40 L629.63,303.98 L631.60,304.54 L633.57,305.07 L635.53,305.57 L637.50,306.05 L639.47,306.51 L641.43,306.93 L643.40,307.34" fill="none" stroke="#000" stroke-width="1.3" stroke-linejoin="round"/><path d="M525.5,265.3 V280 M524.3,265.3 H526.7 M524.3,280 H526.7" stroke="#000" stroke-width="1.1"/><circle cx="525.4" cy="272.4" r="1.5" fill="#000"/><text x="525.4" y="263.0" text-anchor="middle" font-size="8.5">a</text><path d="M548.5,264 V273 M547.3,264 H549.7 M547.3,273 H549.7" stroke="#000" stroke-width="1.1"/><circle cx="548.6" cy="268.4" r="1.5" fill="#000"/><text x="548.6" y="263.0" text-anchor="middle" font-size="8.5">a</text><path d="M573.5,276.4 V287.4 M572.3,276.4 H574.7 M572.3,287.4 H574.7" stroke="#000" stroke-width="1.1"/><circle cx="573" cy="281.4" r="1.5" fill="#000"/><text x="573" y="274.2" text-anchor="middle" font-size="8.5">a</text><path d="M597.5,292.5 V296 M596.3,292.5 H598.7 M596.3,296 H598.7" stroke="#000" stroke-width="1.1"/><circle cx="597" cy="294.4" r="1.5" fill="#000"/><text x="598.8" y="288.0" text-anchor="middle" font-size="8.5">b*</text><path d="M620.5,292.3 V300.4 M619.3,292.3 H621.7 M619.3,300.4 H621.7" stroke="#000" stroke-width="1.1"/><circle cx="620.4" cy="296.6" r="1.5" fill="#000"/><text x="622.1999999999999" y="288.9" text-anchor="middle" font-size="8.5">b*</text><path d="M643.5,307.2 V312.3 M642.3,307.2 H644.7 M642.3,312.3 H644.7" stroke="#000" stroke-width="1.1"/><circle cx="643.4" cy="309.6" r="1.5" fill="#000"/><text x="645.1999999999999" y="304.7" text-anchor="middle" font-size="8.5">c*</text></g><g><path d="M684.2,254.4 V341.6 H814.8" fill="none" stroke="#333" stroke-width="1.35"/><path d="M681.7,341.6 H684.2" stroke="#222" stroke-width="1.1"/><text transform="translate(680.4000000000001,343.8) scale(0.78,1)" text-anchor="end" font-size="8.2">0</text><path d="M681.7,319.6 H684.2" stroke="#222" stroke-width="1.1"/><text transform="translate(680.4000000000001,321.8) scale(0.78,1)" text-anchor="end" font-size="8.2">25</text><path d="M681.7,297.6 H684.2" stroke="#222" stroke-width="1.1"/><text transform="translate(680.4000000000001,299.8) scale(0.78,1)" text-anchor="end" font-size="8.2">50</text><path d="M681.7,276.4 H684.2" stroke="#222" stroke-width="1.1"/><text transform="translate(680.4000000000001,278.59999999999997) scale(0.78,1)" text-anchor="end" font-size="8.2">75</text><path d="M681.7,255 H684.2" stroke="#222" stroke-width="1.1"/><text transform="translate(680.4000000000001,257.2) scale(0.78,1)" text-anchor="end" font-size="8.2">100</text><path d="M698.6,341.6 V344.1" stroke="#222" stroke-width="1.1"/><text transform="translate(698.6,351.6) scale(0.82,1)" text-anchor="middle" font-size="8.2">1.0</text><path d="M734.6,341.6 V344.1" stroke="#222" stroke-width="1.1"/><text transform="translate(734.6,351.6) scale(0.82,1)" text-anchor="middle" font-size="8.2">1.5</text><path d="M770.6,341.6 V344.1" stroke="#222" stroke-width="1.1"/><text transform="translate(770.6,351.6) scale(0.82,1)" text-anchor="middle" font-size="8.2">2.0</text><path d="M806.6,341.6 V344.1" stroke="#222" stroke-width="1.1"/><text transform="translate(806.6,351.6) scale(0.82,1)" text-anchor="middle" font-size="8.2">2.5</text><text x="746.1" y="249.5" text-anchor="middle" font-size="9.7">Ethylcoprostanol</text><text x="754.3" y="364.79999999999995" text-anchor="middle" font-size="7.8">Log (Concentration, µM)</text><text transform="translate(665.4,294.1) rotate(-90) scale(0.92,1)" text-anchor="middle" font-size="8.3">Cell viability  (% vs. control)</text><path d="M695.60,286.05 L697.59,286.05 L699.58,286.05 L701.57,286.05 L703.56,286.05 L705.55,286.05 L707.55,286.05 L709.54,286.05 L711.53,286.05 L713.52,286.05 L715.51,286.05 L717.50,286.05 L719.49,286.05 L721.48,286.05 L723.47,286.05 L725.46,286.05 L727.45,286.05 L729.45,286.06 L731.44,286.06 L733.43,286.06 L735.42,286.06 L737.41,286.06 L739.40,286.06 L741.39,286.07 L743.38,286.07 L745.37,286.08 L747.36,286.09 L749.35,286.10 L751.35,286.12 L753.34,286.14 L755.33,286.17 L757.32,286.22 L759.31,286.28 L761.30,286.35 L763.29,286.46 L765.28,286.60 L767.27,286.78 L769.26,287.02 L771.25,287.31 L773.25,287.68 L775.24,288.10 L777.23,288.59 L779.22,289.12 L781.21,289.66 L783.20,290.20 L785.19,290.70 L787.18,291.16 L789.17,291.55 L791.16,291.87 L793.15,292.13 L795.15,292.33 L797.14,292.49 L799.13,292.61 L801.12,292.70 L803.11,292.76 L805.10,292.81" fill="none" stroke="#000" stroke-width="1.3" stroke-linejoin="round"/><path d="M695.5,277.7 V294.6 M694.3,277.7 H696.7 M694.3,294.6 H696.7" stroke="#000" stroke-width="1.1"/><circle cx="695.6" cy="286.1" r="1.5" fill="#000"/><text x="697.4" y="276.0" text-anchor="middle" font-size="8.5">a*</text><path d="M717.5,281.6 V298.4 M716.3,281.6 H718.7 M716.3,298.4 H718.7" stroke="#000" stroke-width="1.1"/><circle cx="717.2" cy="290" r="1.5" fill="#000"/><text x="719.0" y="279.9" text-anchor="middle" font-size="8.5">a*</text><path d="M739.5,274.5 V289.4 M738.3,274.5 H740.7 M738.3,289.4 H740.7" stroke="#000" stroke-width="1.1"/><circle cx="739.4" cy="282" r="1.5" fill="#000"/><text x="741.1999999999999" y="272.09999999999997" text-anchor="middle" font-size="8.5">a*</text><path d="M761.5,284.5 V288.3 M760.3,284.5 H762.7 M760.3,288.3 H762.7" stroke="#000" stroke-width="1.1"/><circle cx="761.7" cy="286.4" r="1.5" fill="#000"/><text x="763.5" y="282.09999999999997" text-anchor="middle" font-size="8.5">a*</text><path d="M783.5,286.4 V294.2 M782.3,286.4 H784.7 M782.3,294.2 H784.7" stroke="#000" stroke-width="1.1"/><circle cx="783.5" cy="290.3" r="1.5" fill="#000"/><text x="785.3" y="284.09999999999997" text-anchor="middle" font-size="8.5">a*</text><path d="M805.5,287.3 V299 M804.3,287.3 H806.7 M804.3,299 H806.7" stroke="#000" stroke-width="1.1"/><circle cx="805.1" cy="292.9" r="1.5" fill="#000"/><text x="806.9" y="284.7" text-anchor="middle" font-size="8.5">a*</text></g>
</g>
</svg>
</body></html>
